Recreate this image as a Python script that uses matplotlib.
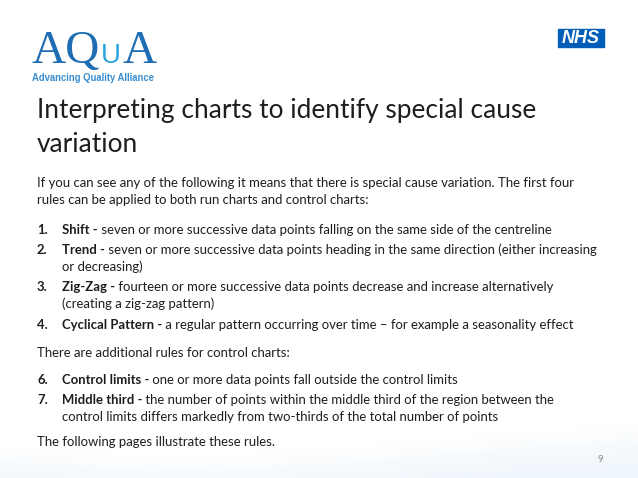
import matplotlib
matplotlib.use("Agg")
import matplotlib.pyplot as plt
import numpy as np
from matplotlib.patches import Rectangle

W, H = 638, 478
FONT = "Lato"

title_lines = ["Interpreting charts to identify special cause", "variation"]
intro_lines = [
    "If you can see any of the following it means that there is special cause variation. The first four",
    "rules can be applied to both run charts and control charts:",
]
run_numbers = ["1.", "2.", "3.", "4."]
run_names = ["Shift -", "Trend -", "Zig-Zag -", "Cyclical Pattern -"]
run_texts = [
    [" seven or more successive data points falling on the same side of the centreline"],
    [" seven or more successive data points heading in the same direction (either increasing",
     "or decreasing)"],
    [" fourteen or more successive data points decrease and increase alternatively",
     "(creating a zig-zag pattern)"],
    [" a regular pattern occurring over time \u2013 for example a seasonality effect"],
]
control_intro = "There are additional rules for control charts:"
control_numbers = ["6.", "7."]
control_names = ["Control limits -", "Middle third -"]
control_texts = [
    [" one or more data points fall outside the control limits"],
    [" the number of points within the middle third of the region between the",
     "control limits differs markedly from two-thirds of the total number of points"],
]
closing = "The following pages illustrate these rules."
page_number = "9"

TEXT_COLOR = "#1e1e1e"

fig = plt.figure(figsize=(W / 100, H / 100), dpi=100)
ax = fig.add_axes([0, 0, 1, 1])
renderer = fig.canvas.get_renderer()

# faint blue swoosh along the bottom edge
yy, xx = np.mgrid[0:70, 0:W]
curve = 30 + 14 * np.sin(xx / W * np.pi * 1.3 + 0.4)
alpha = np.clip((yy - curve) / 45.0, 0, 1) * 0.45
img = np.zeros((70, W, 4))
img[..., 0], img[..., 1], img[..., 2] = 0.86, 0.92, 0.97
img[..., 3] = alpha
ax.imshow(img, extent=[0, W, H, H - 70], aspect="auto", zorder=0)

ax.set_xlim(0, W)
ax.set_ylim(H, 0)
ax.axis("off")


def text_width(s, size, weight="normal", family=FONT, style="normal"):
    t = ax.text(0, 0, s, fontsize=size, fontweight=weight, family=family, fontstyle=style)
    w = t.get_window_extent(renderer).width
    t.remove()
    return w


def fit(s, target, weight="normal", family=FONT, style="normal"):
    return 10 * target / text_width(s, 10, weight, family, style)


def put(x, y, s, size, weight="normal", color=TEXT_COLOR, **kw):
    ax.text(x, y, s, fontsize=size, fontweight=weight, color=color,
            family=kw.pop("family", FONT), va="baseline", **kw)


# AQuA logo
logo_blue = "#1f6db3"
light_blue = "#2ba4dc"
serif = "Liberation Serif"
big, small = 34, 20
put(32, 63, "AQ", big, family=serif, color=logo_blue)
u_left = 32 + text_width("AQ", big, family=serif) + 1
put(u_left, 63, "U", small, family="Liberation Sans", color=light_blue)
a_left = u_left + text_width("U", small, family="Liberation Sans") + 1
put(a_left, 63, "A", big, family=serif, color=logo_blue)
tag = "Advancing Quality Alliance"
put(32, 81, tag, fit(tag, 123, "bold", "Liberation Sans"), "bold",
    family="Liberation Sans", color="#3a8ed0")

# NHS logo
ax.add_patch(Rectangle((558, 29), 46, 18, color="#005eb8", zorder=2))
ax.text(581, 38.5, "NHS", fontsize=fit("NHS", 38, "bold", "Liberation Sans", "italic"),
        fontweight="bold", fontstyle="italic", family="Liberation Sans",
        color="white", ha="center", va="center", zorder=3)

# title
title_size = fit(title_lines[0], 498)
put(37, 118, title_lines[0], title_size)
put(37, 152, title_lines[1], title_size)

# body
body = fit(intro_lines[0], 535)
x0, x1 = 37, 62
put(x0, 187, intro_lines[0], body)
put(x0, 204, intro_lines[1], body)


def rule(y, num, name, lines):
    put(x0, y, num, body, "bold")
    put(x1, y, name, body, "bold")
    put(x1 + text_width(name, body, "bold"), y, lines[0], body)
    for k, line in enumerate(lines[1:], start=1):
        put(x1, y + 17 * k, line, body)


run_y = [234, 254, 291, 329]
for y, num, name, lines in zip(run_y, run_numbers, run_names, run_texts):
    rule(y, num, name, lines)

put(x0, 357, control_intro, body)
control_y = [384, 404]
for y, num, name, lines in zip(control_y, control_numbers, control_names, control_texts):
    rule(y, num, name, lines)

put(x0, 446, closing, body)
put(597, 462, page_number, body * 0.75, color="#8c8c8c")

fig.savefig("out.png", dpi=100)
